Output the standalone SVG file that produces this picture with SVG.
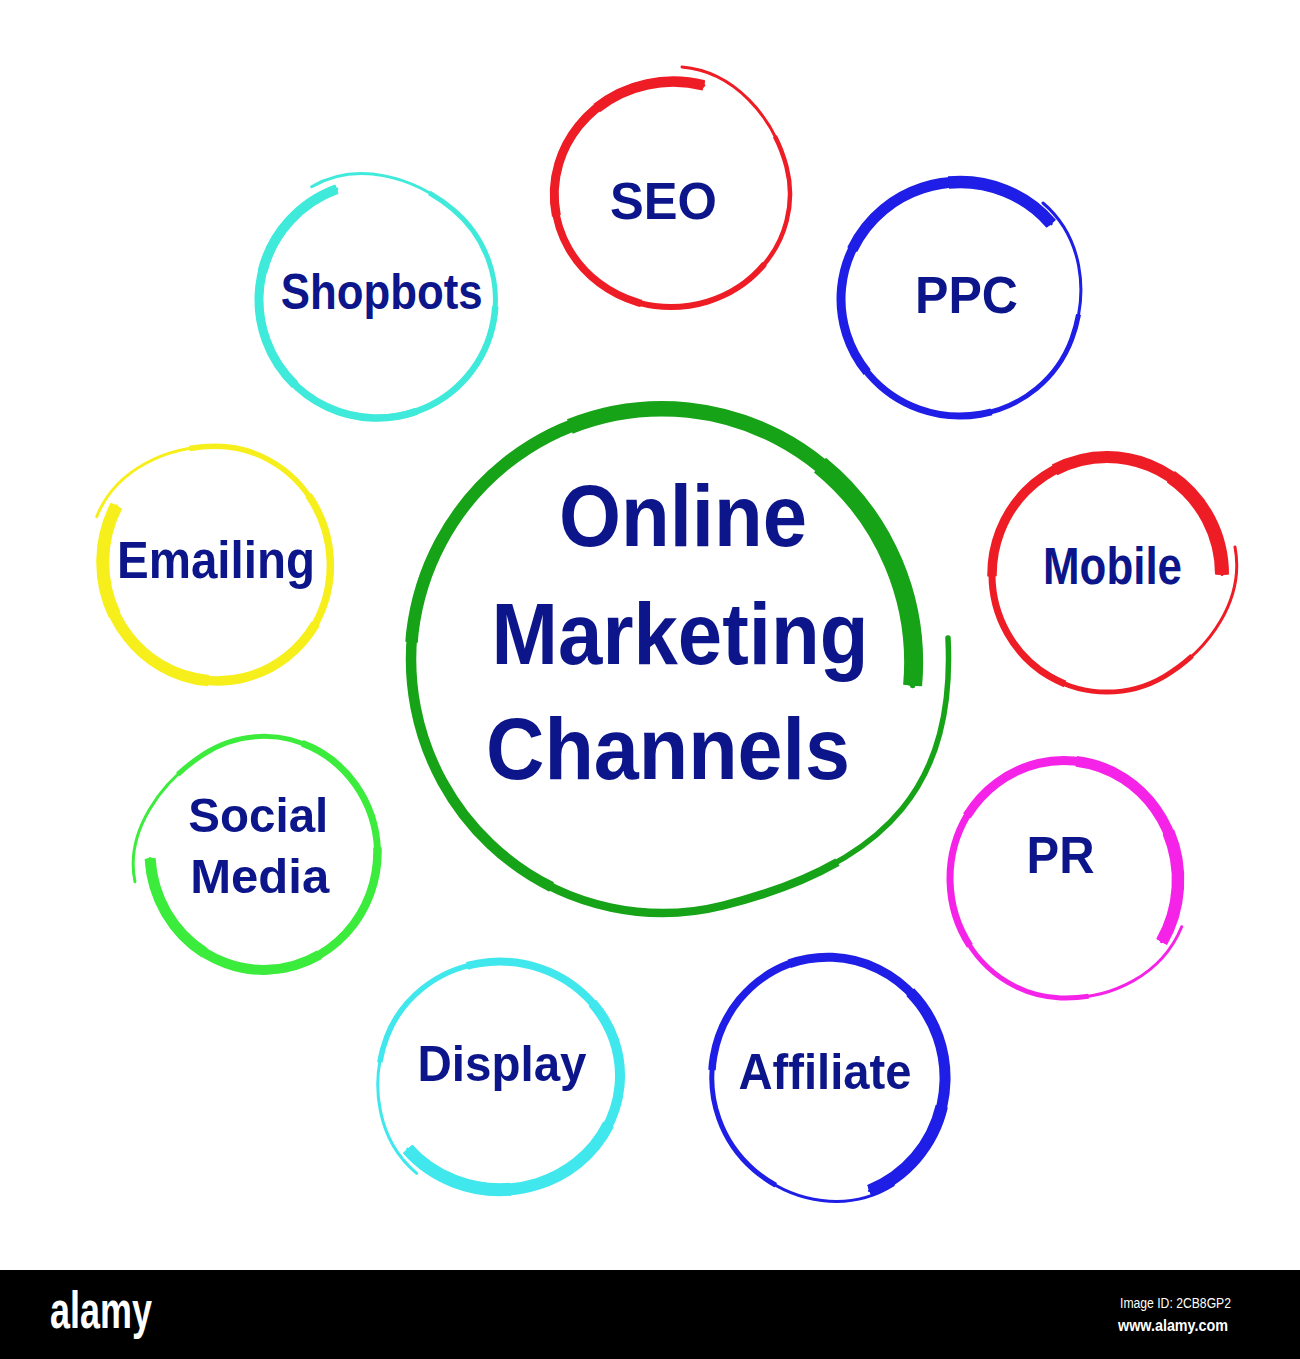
<svg xmlns="http://www.w3.org/2000/svg" width="1300" height="1359" viewBox="0 0 1300 1359">
<style>
.s{fill:none;stroke-linecap:butt;stroke-linejoin:round}
.L0{stroke-linecap:round}
.L1{stroke-dasharray:84 200}
.L2{stroke-dasharray:66 200}
.L3{stroke-dasharray:48 200}
.L4{stroke-dasharray:31 200}
.L5{stroke-dasharray:15 200}
.lbl{font-family:"Liberation Sans",Arial,sans-serif;font-weight:bold;fill:#0c168a;text-anchor:middle}
.red{stroke:#ee1d25}
.blue{stroke:#1e1ee6}
.mag{stroke:#f523e8}
.cyan{stroke:#40e8ee}
.teal{stroke:#40eadb}
.lime{stroke:#3cec3c}
.yel{stroke:#f7ef1c}
.grn{stroke:#17a317}
</style>
<defs>
<path id="p-center" pathLength="100" d="M912.6,685.5 A251.5,254 0 0 0 412.4,632.5 A251.5,254 0 0 0 723.3,905.5 C893,862.8 955,780 948,638"/>
<path id="p-seo" pathLength="100" d="M703.8,85.4 A119,113 0 0 0 638.2,302.6 A119,113 0 0 0 786.5,166.7 C773.3,116.4 733.8,71.3 682,67"/>
<path id="p-ppc" pathLength="100" d="M1051.2,223.8 A119,117 0 0 0 868.8,374.2 A119,117 0 0 0 1071.8,339.0 C1089.5,291.2 1081.8,236.2 1043,203"/>
<path id="p-mobile" pathLength="100" d="M1222,574.5 A115,117.5 0 0 0 992,574.5 A115,117.5 0 0 0 1164.5,676.3 C1210.1,649.4 1244.9,599 1235,547"/>
<path id="p-pr" pathLength="100" d="M1161.6,941.8 A114.5,119.5 0 0 0 967.4,815.2 A114.5,119.5 0 0 0 1060.5,997.9 C1111.9,999.8 1162.3,974.4 1181.7,926.7"/>
<path id="p-affiliate" pathLength="100" d="M869.5,1190.7 A117.5,120.7 0 0 0 789.1,963.9 A117.5,120.7 0 0 0 753.8,1169.8 C793.2,1203.8 849.3,1212.6 893.3,1185"/>
<path id="p-display" pathLength="100" d="M407.7,1149.0 A120.2,114 0 0 0 591.9,1002.4 A120.2,114 0 0 0 386.8,1036.7 C368.7,1084 377.7,1141.1 416.7,1173.3"/>
<path id="p-social" pathLength="100" d="M150.1,858.6 A113.8,118.2 0 0 0 377.5,850.4 A113.8,118.2 0 0 0 203.5,754.3 C160.7,782 124.7,831.7 135,881.7"/>
<path id="p-emailing" pathLength="100" d="M116.4,505.8 A114.7,118.9 0 0 0 315.0,624.6 A114.7,118.9 0 0 0 215.7,446.3 C165.7,446.3 115.3,470.2 96.7,516.7"/>
<path id="p-shopbots" pathLength="100" d="M336.8,189.1 A118.2,118 0 0 0 417.6,410.9 A118.2,118 0 0 0 453.2,209.6 C413.4,176.2 356.7,160.7 311.7,186.7"/>
</defs>
<rect width="1300" height="1359" fill="#ffffff"/>

<g id="center">
<use href="#p-center" class="s grn L0" stroke-width="5.5"/>
<use href="#p-center" class="s grn L1" stroke-width="8.5"/>
<use href="#p-center" class="s grn L2" stroke-width="10.5"/>
<use href="#p-center" class="s grn L3" stroke-width="12.5"/>
<use href="#p-center" class="s grn L4" stroke-width="15.5"/>
<use href="#p-center" class="s grn L5" stroke-width="19"/>
<text class="lbl" x="683" y="546" font-size="87" textLength="248" lengthAdjust="spacingAndGlyphs">Online</text>
<text class="lbl" x="680" y="664" font-size="87" textLength="377" lengthAdjust="spacingAndGlyphs">Marketing</text>
<text class="lbl" x="668" y="779" font-size="87" textLength="364" lengthAdjust="spacingAndGlyphs">Channels</text>
</g>

<g id="seo">
<use href="#p-seo" class="s red L0" stroke-width="3"/>
<use href="#p-seo" class="s red L1" stroke-width="4.5"/>
<use href="#p-seo" class="s red L2" stroke-width="6"/>
<use href="#p-seo" class="s red L3" stroke-width="7.5"/>
<use href="#p-seo" class="s red L4" stroke-width="9"/>
<use href="#p-seo" class="s red L5" stroke-width="10.5"/>
<text class="lbl" x="663.5" y="219" font-size="51" textLength="107" lengthAdjust="spacingAndGlyphs">SEO</text>
</g>

<g id="ppc">
<use href="#p-ppc" class="s blue L0" stroke-width="3"/>
<use href="#p-ppc" class="s blue L1" stroke-width="5"/>
<use href="#p-ppc" class="s blue L2" stroke-width="7"/>
<use href="#p-ppc" class="s blue L3" stroke-width="9"/>
<use href="#p-ppc" class="s blue L4" stroke-width="11"/>
<use href="#p-ppc" class="s blue L5" stroke-width="12.5"/>
<text class="lbl" x="966.5" y="312.5" font-size="51" textLength="103" lengthAdjust="spacingAndGlyphs">PPC</text>
</g>

<g id="mobile">
<use href="#p-mobile" class="s red L0" stroke-width="3"/>
<use href="#p-mobile" class="s red L1" stroke-width="5"/>
<use href="#p-mobile" class="s red L2" stroke-width="7"/>
<use href="#p-mobile" class="s red L3" stroke-width="9.5"/>
<use href="#p-mobile" class="s red L4" stroke-width="12"/>
<use href="#p-mobile" class="s red L5" stroke-width="14"/>
<text class="lbl" x="1112.5" y="584" font-size="51" textLength="139" lengthAdjust="spacingAndGlyphs">Mobile</text>
</g>

<g id="pr">
<use href="#p-pr" class="s mag L0" stroke-width="3"/>
<use href="#p-pr" class="s mag L1" stroke-width="5"/>
<use href="#p-pr" class="s mag L2" stroke-width="7"/>
<use href="#p-pr" class="s mag L3" stroke-width="9"/>
<use href="#p-pr" class="s mag L4" stroke-width="11"/>
<use href="#p-pr" class="s mag L5" stroke-width="12.5"/>
<text class="lbl" x="1060.5" y="873" font-size="52" textLength="68" lengthAdjust="spacingAndGlyphs">PR</text>
</g>

<g id="affiliate">
<use href="#p-affiliate" class="s blue L0" stroke-width="3"/>
<use href="#p-affiliate" class="s blue L1" stroke-width="5"/>
<use href="#p-affiliate" class="s blue L2" stroke-width="7.5"/>
<use href="#p-affiliate" class="s blue L3" stroke-width="9"/>
<use href="#p-affiliate" class="s blue L4" stroke-width="11"/>
<use href="#p-affiliate" class="s blue L5" stroke-width="12.5"/>
<text class="lbl" x="825" y="1089" font-size="50" textLength="173" lengthAdjust="spacingAndGlyphs">Affiliate</text>
</g>

<g id="display">
<use href="#p-display" class="s cyan L0" stroke-width="3"/>
<use href="#p-display" class="s cyan L1" stroke-width="5.5"/>
<use href="#p-display" class="s cyan L2" stroke-width="8"/>
<use href="#p-display" class="s cyan L3" stroke-width="10"/>
<use href="#p-display" class="s cyan L4" stroke-width="12"/>
<use href="#p-display" class="s cyan L5" stroke-width="13"/>
<text class="lbl" x="502" y="1081" font-size="50" textLength="169" lengthAdjust="spacingAndGlyphs">Display</text>
</g>

<g id="social-media">
<use href="#p-social" class="s lime L0" stroke-width="3"/>
<use href="#p-social" class="s lime L1" stroke-width="5"/>
<use href="#p-social" class="s lime L2" stroke-width="7"/>
<use href="#p-social" class="s lime L3" stroke-width="8.5"/>
<use href="#p-social" class="s lime L4" stroke-width="10"/>
<use href="#p-social" class="s lime L5" stroke-width="11"/>
<text class="lbl" x="258.3" y="832" font-size="49" textLength="140" lengthAdjust="spacingAndGlyphs">Social</text>
<text class="lbl" x="259.7" y="893" font-size="49" textLength="139" lengthAdjust="spacingAndGlyphs">Media</text>
</g>

<g id="emailing">
<use href="#p-emailing" class="s yel L0" stroke-width="3"/>
<use href="#p-emailing" class="s yel L1" stroke-width="5.5"/>
<use href="#p-emailing" class="s yel L2" stroke-width="7.5"/>
<use href="#p-emailing" class="s yel L3" stroke-width="9.5"/>
<use href="#p-emailing" class="s yel L4" stroke-width="11.5"/>
<use href="#p-emailing" class="s yel L5" stroke-width="13"/>
<text class="lbl" x="216" y="578" font-size="51" textLength="198" lengthAdjust="spacingAndGlyphs">Emailing</text>
</g>

<g id="shopbots">
<use href="#p-shopbots" class="s teal L0" stroke-width="3"/>
<use href="#p-shopbots" class="s teal L1" stroke-width="5"/>
<use href="#p-shopbots" class="s teal L2" stroke-width="6.5"/>
<use href="#p-shopbots" class="s teal L3" stroke-width="7.5"/>
<use href="#p-shopbots" class="s teal L4" stroke-width="9"/>
<use href="#p-shopbots" class="s teal L5" stroke-width="10"/>
<text class="lbl" x="381.7" y="309" font-size="50" textLength="202" lengthAdjust="spacingAndGlyphs">Shopbots</text>
</g>

<g id="connectors"></g>

<g id="banner">
<rect x="0" y="1270" width="1300" height="89" fill="#000000"/>
<text x="50" y="1328" font-family="'Liberation Sans Narrow','Liberation Sans',Arial,sans-serif" font-weight="bold" font-size="52" fill="#ffffff" textLength="102" lengthAdjust="spacingAndGlyphs">alamy</text>
<text x="1120" y="1308" font-family="'Liberation Sans',Arial,sans-serif" font-size="14" fill="#ffffff" textLength="111" lengthAdjust="spacingAndGlyphs">Image ID: 2CB8GP2</text>
<text x="1118" y="1331" font-family="'Liberation Sans',Arial,sans-serif" font-weight="bold" font-size="17" fill="#ffffff" textLength="110" lengthAdjust="spacingAndGlyphs">www.alamy.com</text>
</g>
</svg>
